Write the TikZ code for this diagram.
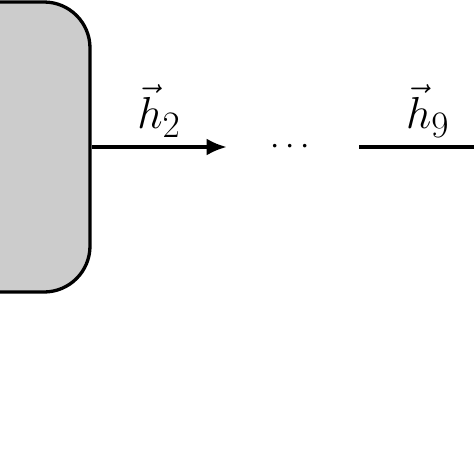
\documentclass[tikz,border=0pt]{standalone}
\usepackage{amsmath,amssymb}
\usepackage{tikz}
\usetikzlibrary{positioning, arrows.meta}

\begin{document}
\begin{tikzpicture}[
    x=1pt, y=1pt,
    box/.style={draw, rectangle, rounded corners=46pt, fill=gray!40,
                line width=3.3pt, minimum width=190pt, minimum height=290pt},
    arrow/.style={-{Latex[length=20pt, width=17pt]}, line width=3.1pt},
    link/.style={line width=3.1pt},
    lbl/.style={font=\Huge, scale=1.8, inner sep=4pt}
]
\useasboundingbox (0,0) rectangle (474,-474);
\clip (0,0) rectangle (474,-474);
% Encoder block (cut at the left)
\node[box] (enc) at (-5,-147) {};
% Hidden states
\node[inner sep=0, minimum width=98pt, font=\Huge, scale=1.35] (dots)
      at (293,-147) {$\cdots$};
\coordinate (out) at (496,-147);
\draw[arrow] (enc.east) -- node[lbl, above] {$\vec{h}_2$} (dots.west);
\draw[link] (dots.east) -- node[lbl, above] {$\vec{h}_9$} (out);
\end{tikzpicture}
\end{document}
